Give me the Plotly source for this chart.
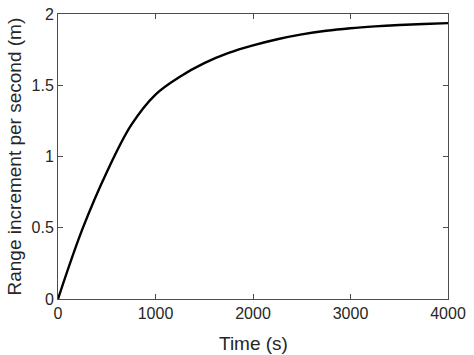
import plotly.graph_objects as go

time_s = [0, 250, 500, 750, 1000, 1250, 1500, 1750, 2000, 2250, 2500, 2750, 3000, 3250, 3500, 3750, 4000]
range_inc = [0, 0.49, 0.89, 1.22, 1.435, 1.56, 1.655, 1.727, 1.780, 1.823, 1.857, 1.882, 1.900, 1.913, 1.923, 1.930, 1.936]

x_ticks = [0, 1000, 2000, 3000, 4000]
y_ticks = [0, 0.5, 1, 1.5, 2]

font_family = "Liberation Sans, Arial, sans-serif"
text_color = "#262626"
axis_color = "#4d4d4d"

fig = go.Figure()
fig.add_trace(go.Scatter(x=time_s, y=range_inc, mode="lines",
                         line=dict(color="black", width=2.4, shape="spline", smoothing=1.0),
                         showlegend=False, hoverinfo="skip"))

axis_common = dict(showline=True, linecolor=axis_color, linewidth=1, mirror="ticks",
                   ticks="inside", ticklen=5, tickcolor=axis_color, tickwidth=1,
                   showgrid=False, zeroline=False, ticklabeloverflow="allow",
                   tickfont=dict(family=font_family, size=16, color=text_color))

fig.update_xaxes(range=[0, 4000], tickvals=x_ticks, ticktext=[str(v) for v in x_ticks], **axis_common)
fig.update_yaxes(range=[0, 2], tickvals=y_ticks, ticktext=["0", "0.5", "1", "1.5", "2"], **axis_common)

fig.update_layout(
    width=474, height=355,
    margin=dict(l=58, r=26, t=6, b=56),
    paper_bgcolor="white", plot_bgcolor="white",
    font=dict(family=font_family, color=text_color),
    annotations=[
        dict(text="Time (s)", xref="paper", yref="paper", x=0.5, y=0, xanchor="center",
             yanchor="middle", yshift=-44, showarrow=False,
             font=dict(family=font_family, size=19, color=text_color)),
        dict(text="Range increment per second (m)", xref="paper", yref="paper", x=0, y=0.5,
             xanchor="center", yanchor="middle", xshift=-44, textangle=-90, showarrow=False,
             font=dict(family=font_family, size=19, color=text_color)),
    ],
)

fig.write_html("out.html", config={"displayModeBar": False},
               post_script="document.body.style.margin='0';")
